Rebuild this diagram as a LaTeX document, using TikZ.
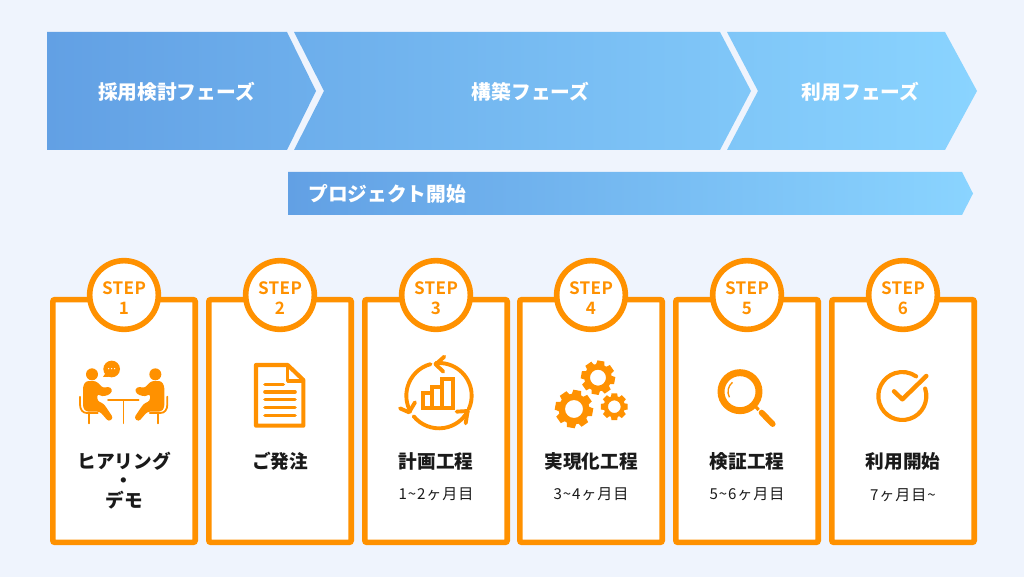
\documentclass[tikz,border=0pt]{standalone}
\usepackage{fontspec}
\setmainfont{Noto Sans CJK JP}
\newfontfamily\jpsub[LetterSpace=6]{Noto Sans CJK JP}
\newfontfamily\jpstep[LetterSpace=2]{Noto Sans CJK JP Bold}
\definecolor{bgc}{HTML}{EFF4FD}
\definecolor{org}{HTML}{FF9100}
\definecolor{gleft}{HTML}{62A0E4}
\definecolor{gright}{HTML}{8AD4FF}
\definecolor{ink}{HTML}{1A1A1A}
\tikzset{
  cardbox/.style={draw=org,line width=4.2pt,fill=white,rounded corners=1.5pt,minimum width=106.8pt,minimum height=182pt,inner sep=0pt},
  stepbadge/.style={circle,draw=org,line width=4.2pt,fill=white,minimum size=51.5pt,inner sep=0pt},
  steptext/.style={align=center,text=org,inner sep=0pt,font=\jpstep\fontsize{12.8pt}{15.2pt}\selectfont},
  phaselabel/.style={text=white,font=\bfseries\fontsize{14.8pt}{16pt}\selectfont,inner sep=0pt},
  titlelabel/.style={text=ink,font=\bfseries\fontsize{14pt}{14.8pt}\selectfont,inner sep=0pt,align=center},
  sublabel/.style={text=ink,font=\jpsub\fontsize{11.3pt}{13pt}\selectfont,inner sep=0pt},
  iconline/.style={draw=org,line cap=round,line join=round},
}
% gear: cx cy outer root hole rotation
\newcommand{\gearicon}[6]{%
  \fill[org,even odd rule,shift={(#1,#2)}]
    (#6-18:#4)
    \foreach \ga in {0,45,...,315}{
      -- ({#6+\ga-18}:#4) -- ({#6+\ga-12}:#3) -- ({#6+\ga+12}:#3) -- ({#6+\ga+18}:#4)
    } -- cycle
    (0,0) circle [radius=#5];
}
% seated person in zoom coordinates
\newcommand{\personicon}{%
  \fill[org] (60,58) circle [radius=18];
  \fill[org,rounded corners=2pt] (33,158) -- (33,93) -- (42,78) -- (72,78) -- (94,100) -- (108,94) -- (122,103) -- (115,118) -- (90,125) -- (76,116) -- (76,138) -- (95,146) -- (124,189) -- (110,200) -- (84,170) -- (42,170) -- cycle;
  \draw[iconline,line width=1.35pt] (24,125) -- (24,148) .. controls (24,164) and (32,174) .. (45,174) -- (77,174);
  \draw[iconline,line width=1.35pt] (52,174) -- (52,205);
}
\begin{document}
\begin{tikzpicture}[x=0.75pt,y=-0.75pt]
\useasboundingbox (0,0) rectangle (1024,577);
\fill[bgc] (0,0) rectangle (1024,577);

% phase band: one gradient across all three shapes
\shade[left color=gleft,right color=gright]
  (47,32) -- (287,32) -- (316,91) -- (287,150) -- (47,150) -- cycle
  (294,32) -- (720,32) -- (751,91) -- (720,150) -- (294,150) -- (324,91) -- cycle
  (727,32) -- (945,32) -- (977,91) -- (945,150) -- (727,150) -- (758,91) -- cycle;
\node[phaselabel] (phaseA) at (176.5,91.5) {採用検討フェーズ};
\node[phaselabel] (phaseB) at (530.5,91.5) {構築フェーズ};
\node[phaselabel] (phaseC) at (860.5,91.5) {利用フェーズ};

% project bar
\shade[left color=gleft,right color=gright]
  (288,172) -- (962,172) -- (973,193.5) -- (962,215) -- (288,215) -- cycle;
\node[phaselabel,anchor=west] (project) at (308,194) {プロジェクト開始};

% cards and badges
\foreach \nm/\cx in {1/124,2/280,3/436,4/591,5/747,6/903}{
  \node[cardbox] (card\nm) at (\cx,421) {};
  \node[stepbadge] (badge\nm) at (\cx,295) {};
  \node[steptext] (steptext\nm) at (\cx,298) {STEP\\\nm};
}

% titles
\node[titlelabel] (t1) at (124,480.5) {ヒアリング\\・\\デモ};
\node[titlelabel] (t2) at (280,461) {ご発注};
\node[titlelabel] (t3) at (436,461) {計画工程};
\node[titlelabel] (t4) at (591,461) {実現化工程};
\node[titlelabel] (t5) at (747,461) {検証工程};
\node[titlelabel] (t6) at (903,461) {利用開始};
\node[sublabel] (s3) at (436,494.5) {1\textasciitilde2ヶ月目};
\node[sublabel] (s4) at (591,494.5) {3\textasciitilde4ヶ月目};
\node[sublabel] (s5) at (747,494.5) {5\textasciitilde6ヶ月目};
\node[sublabel] (s6) at (903,495) {7ヶ月目\textasciitilde};

% icon 1: meeting
\begin{scope}[shift={(72,355)},x=0.25pt,y=-0.25pt]
  \personicon
  \begin{scope}[shift={(310,0)},x=-0.25pt]
    \personicon
  \end{scope}
  \fill[org] (119,42) circle [radius=25];
  \fill[org] (100,55) -- (93,66) -- (113,65) -- cycle;
  \fill[white] (110,41) circle [radius=2.2] (119,41) circle [radius=2.2] (128,41) circle [radius=2.2];
  \draw[iconline,line width=1.2pt] (108,135) -- (200,135) (155,135) -- (155,205);
\end{scope}

% icon 2: document
\begin{scope}[shift={(245,355)},x=0.25pt,y=-0.25pt]
  \draw[iconline,line width=3.1pt] (33,30) -- (128,30) -- (175,75) -- (175,212) -- (33,212) -- cycle;
  \draw[iconline,line width=2.6pt] (128,30) -- (128,78) -- (175,78);
  \draw[iconline,line width=2.7pt] (60,88) -- (115,88) (60,111) -- (150,111) (60,134) -- (150,134) (60,158) -- (150,158) (60,181) -- (150,181);
\end{scope}

% icon 3: cycle with bars
\begin{scope}[shift={(395,355)},x=0.25pt,y=-0.25pt]
  \draw[iconline,line width=2.9pt] (132,122) ++(255:98) arc[start angle=255,end angle=151,radius=98];
  \draw[iconline,line width=2.9pt] (132,122) ++(-96:98) arc[start angle=-96,end angle=24,radius=98];
  \draw[iconline,line width=2.9pt] (132,122) ++(141:98) arc[start angle=141,end angle=28,radius=98];
  \draw[iconline,line width=2.9pt] (148,5) -- (122,28) -- (145,50);
  \draw[iconline,line width=2.9pt] (15,160) -- (42,172) -- (60,142);
  \draw[iconline,line width=2.9pt] (185,170) -- (218,168) -- (212,205);
  \draw[org,line width=2.8pt,line join=miter] (85,115) rectangle (112,158) (112,95) rectangle (142,158) (142,73) rectangle (175,158);
\end{scope}

% icon 4: gears
\begin{scope}[shift={(548,355)},x=0.25pt,y=-0.25pt]
  \gearicon{78}{162}{58}{46}{27}{10}
  \gearicon{150}{68}{52}{41}{24}{10}
  \gearicon{199}{155}{41}{32}{19}{0}
\end{scope}

% icon 5: magnifier
\begin{scope}[shift={(710,360)},x=0.25pt,y=-0.25pt]
  \draw[org,line width=5.2pt] (90,95) circle [radius=57];
  \draw[org,line width=1pt] (90,95) ++(152:36) arc[start angle=152,end angle=231,radius=36];
  \draw[org,line width=2.4pt] (135,138) -- (146,150);
  \draw[iconline,line width=4.4pt] (155,158) -- (188,192);
\end{scope}

% icon 6: check
\begin{scope}[shift={(868,362)},x=0.25pt,y=-0.25pt]
  \draw[iconline,line width=3.1pt] (103,102) ++(-18:72) arc[start angle=-18,end angle=305,radius=72];
  \draw[iconline,line width=3.3pt] (78,88) -- (103,112) -- (175,42);
\end{scope}
\end{tikzpicture}
\end{document}
